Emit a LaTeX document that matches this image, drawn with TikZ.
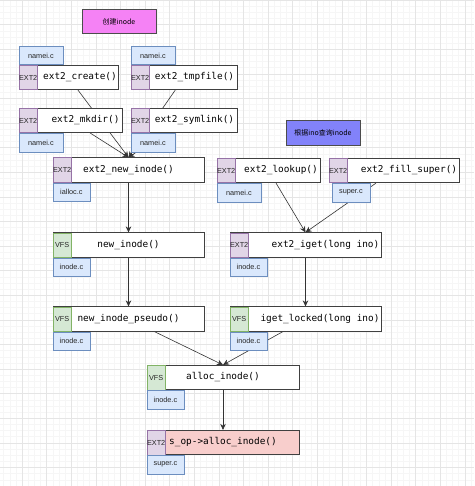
\documentclass[tikz,border=0pt]{standalone}
\usepackage{fontspec}
\setmainfont{Liberation Sans}
\setmonofont{DejaVu Sans Mono}
\newfontfamily\cjk{Noto Sans CJK SC}
\usetikzlibrary{arrows.meta,positioning}

\pgfdeclarelayer{bg}
\pgfdeclarelayer{edges}
\pgfsetlayers{bg,edges,main}

\definecolor{extfill}{HTML}{E1D5E7}
\definecolor{extline}{HTML}{9673A6}
\definecolor{vfsfill}{HTML}{D5E8D4}
\definecolor{vfsline}{HTML}{82B366}
\definecolor{srcfill}{HTML}{DAE8FC}
\definecolor{srcline}{HTML}{6C8EBF}
\definecolor{hotfill}{HTML}{F8CECC}
\definecolor{pinkhead}{RGB}{245,130,245}
\definecolor{bluehead}{RGB}{130,130,250}

\begin{document}
\begin{tikzpicture}[
    x=1pt, y=-1pt,
    fn/.style={rectangle, draw=black!75, fill=white, line width=0.7pt, minimum height=24.5pt, inner sep=0pt},
    tag/.style={rectangle, minimum width=18.5pt, minimum height=24.5pt, inner sep=0pt, line width=0.5pt, text=black!85, font=\fontsize{7.3}{8}\selectfont},
    ext/.style={tag, draw=extline, fill=extfill},
    vfs/.style={tag, draw=vfsline, fill=vfsfill},
    src/.style={rectangle, draw=srcline, fill=srcfill, minimum width=37pt, minimum height=18.5pt, inner sep=0pt, line width=0.5pt, text=black!85, font=\fontsize{7.3}{8}\selectfont},
    code/.style={font=\ttfamily\fontsize{9.4}{11}\selectfont},
    head/.style={rectangle, draw=black!70, line width=0.7pt, minimum width=74pt, minimum height=24.5pt, font=\cjk\fontsize{7}{8}\selectfont},
    arr/.style={-{Stealth[length=6pt,width=5.5pt]}, draw=black!80, line width=0.6pt},
    gridminor/.style={draw=gray!7, line width=0.4pt},
    gridmajor/.style={draw=gray!20, line width=0.5pt}
]
\useasboundingbox (0,0) rectangle (474,486);

% background grid
\begin{pgfonlayer}{bg}
\fill[white] (0,0) rectangle (474,486);
\foreach \i in {1,...,78} \draw[gridminor] ({-2.6+6.15*\i},0) -- ++(0,486);
\foreach \j in {0,...,79} \draw[gridminor] (0,{6.15*\j}) -- ++(474,0);
\foreach \i in {1,...,19} \draw[gridmajor] ({-2.6+24.6*\i},0) -- ++(0,486);
\foreach \j in {0,...,19} \draw[gridmajor] (0,{24.6*\j}) -- ++(474,0);
\end{pgfonlayer}

% headings
\node[head, fill=pinkhead] (headcreate) at (119,21.5) {创建inode};
\node[head, fill=bluehead] (headlookup) at (323,133) {根据ino查询inode};

% ext2 callers of ext2_new_inode
\node[fn, minimum width=99pt, label={[code,xshift=11.5pt]center:ext2\_create()}] (create) at (68.5,77.5) {};
\node[ext, anchor=west] (createtag) at (create.west) {EXT2};
\node[src, minimum width=44pt, anchor=south west] (createsrc) at (create.north west) {namei.c};

\node[fn, minimum width=106pt, label={[code,xshift=10.5pt]center:ext2\_tmpfile()}] (tmpfile) at (184,77.5) {};
\node[ext, anchor=west] (tmpfiletag) at (tmpfile.west) {EXT2};
\node[src, minimum width=44pt, anchor=south west] (tmpfilesrc) at (tmpfile.north west) {namei.c};

\node[fn, minimum width=103pt, label={[code,xshift=15pt]center:ext2\_mkdir()}] (mkdir) at (70.5,120.5) {};
\node[ext, anchor=west] (mkdirtag) at (mkdir.west) {EXT2};
\node[src, minimum width=44pt, anchor=north west] (mkdirsrc) at (mkdir.south west) {namei.c};

\node[fn, minimum width=106pt, label={[code,xshift=10.5pt]center:ext2\_symlink()}] (symlink) at (184,120.5) {};
\node[ext, anchor=west] (symlinktag) at (symlink.west) {EXT2};
\node[src, minimum width=44pt, anchor=north west] (symlinksrc) at (symlink.south west) {namei.c};

% allocation chain
\node[fn, minimum width=151pt, label={[code]center:ext2\_new\_inode()}] (newinode) at (128.5,170) {};
\node[ext, anchor=west] (newinodetag) at (newinode.west) {EXT2};
\node[src, anchor=north west] (newinodesrc) at (newinode.south west) {ialloc.c};

\node[fn, minimum width=151pt, label={[code]center:new\_inode()}] (vfsnew) at (128.5,245) {};
\node[vfs, anchor=west] (vfsnewtag) at (vfsnew.west) {VFS};
\node[src, anchor=north west] (vfsnewsrc) at (vfsnew.south west) {inode.c};

\node[fn, minimum width=151pt, label={[code]center:new\_inode\_pseudo()}] (pseudo) at (128.5,319) {};
\node[vfs, anchor=west] (pseudotag) at (pseudo.west) {VFS};
\node[src, anchor=north west] (pseudosrc) at (pseudo.south west) {inode.c};

% lookup chain
\node[fn, minimum width=103pt, label={[code,xshift=12.5pt]center:ext2\_lookup()}] (lookup) at (268.5,170.5) {};
\node[ext, anchor=west] (lookuptag) at (lookup.west) {EXT2};
\node[src, minimum width=44pt, anchor=north west] (lookupsrc) at (lookup.south west) {namei.c};

\node[fn, minimum width=130pt, label={[code,xshift=15pt]center:ext2\_fill\_super()}] (fillsuper) at (394,170.5) {};
\node[ext, anchor=west] (fillsupertag) at (fillsuper.west) {EXT2};
\node[src, minimum width=38pt, anchor=north west] (fillsupersrc) at ([xshift=3pt]fillsuper.south west) {super.c};

\node[fn, minimum width=151pt, label={[code,xshift=20pt]center:ext2\_iget(long ino)}] (iget) at (305.5,245) {};
\node[ext, anchor=west] (igettag) at (iget.west) {EXT2};
\node[src, anchor=north west] (igetsrc) at (iget.south west) {inode.c};

\node[fn, minimum width=151pt, label={[code,xshift=14.5pt]center:iget\_locked(long ino)}] (igetlocked) at (305.5,319) {};
\node[vfs, anchor=west] (igetlockedtag) at (igetlocked.west) {VFS};
\node[src, anchor=north west] (igetlockedsrc) at (igetlocked.south west) {inode.c};

% common tail
\node[fn, minimum width=152pt, label={[code]center:alloc\_inode()}] (alloc) at (223,377.5) {};
\node[vfs, anchor=west] (alloctag) at (alloc.west) {VFS};
\node[src, anchor=north west] (allocsrc) at (alloc.south west) {inode.c};

\node[fn, fill=hotfill, minimum width=152pt, label={[code]center:s\_op->alloc\_inode()}] (sopalloc) at (223,442.5) {};
\node[ext, anchor=west] (sopalloctag) at (sopalloc.west) {EXT2};
\node[src, anchor=north west] (sopallocsrc) at (sopalloc.south west) {super.c};

\begin{pgfonlayer}{edges}
\draw[arr] (create) -- (newinode.north);
\draw[arr] (tmpfile) -- (newinode.north);
\draw[arr] (mkdir) -- (newinode.north);
\draw[arr] (symlink) -- (newinode.north);
\draw[arr] (newinode) -- (vfsnew);
\draw[arr] (vfsnew) -- (pseudo);
\draw[arr] (lookup) -- (iget.north);
\draw[arr] (fillsuper) -- (iget.north);
\draw[arr] (iget) -- (igetlocked);
\draw[arr] (pseudo) -- (alloc.north);
\draw[arr] (igetlocked) -- (alloc.north);
\draw[arr] (alloc) -- (sopalloc);
\end{pgfonlayer}
\end{tikzpicture}
\end{document}
